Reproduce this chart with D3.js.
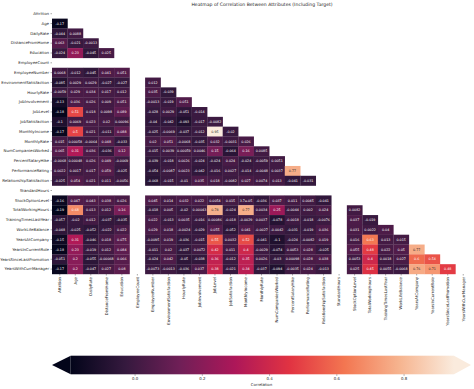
<!DOCTYPE html>
<html>
<head>
<meta charset="utf-8">
<script src="https://cdn.jsdelivr.net/npm/d3@7/dist/d3.min.js"></script>
<style>
html,body{margin:0;padding:0;background:#fff;}
svg{display:block;font-family:"DejaVu Sans",sans-serif;}
</style>
</head>
<body>
<svg id="chart" width="474" height="389"></svg>
<script>
const attributes = ["Attrition","Age","DailyRate","DistanceFromHome","Education","EmployeeCount","EmployeeNumber","EnvironmentSatisfaction","HourlyRate","JobInvolvement","JobLevel","JobSatisfaction","MonthlyIncome","MonthlyRate","NumCompaniesWorked","PercentSalaryHike","PerformanceRating","RelationshipSatisfaction","StandardHours","StockOptionLevel","TotalWorkingHours","TrainingTimesLastYear","WorkLifeBalance","YearsAtCompany","YearsInCurrentRole","YearsSinceLastPromotion","YearsWithCurrManager"];
const n = null;
// Lower-triangle correlation values, row by row; null = blank (constant attribute)
const corrAge = [-0.17];
const corrDailyRate = [-0.044,0.0088];
const corrDistance = [0.063,-0.021,-0.0013];
const corrEducation = [-0.024,0.23,-0.045,0.025];
const corrEmployeeCount = [n,n,n,n,n];
const corrEmployeeNumber = [0.0068,-0.012,-0.045,0.041,0.051,n];
const corrEnvironment = [-0.085,0.0029,0.0029,-0.027,-0.027,n,0.012];
const corrHourlyRate = [-0.0059,0.029,0.034,0.017,0.012,n,0.035,-0.039];
const corrInvolvement = [-0.13,0.036,0.026,0.009,0.051,n,-0.0013,-0.019,0.051];
const corrJobLevel = [-0.18,0.51,0.018,0.0098,0.089,n,-0.028,0.0029,-0.051,-0.014];
const corrJobSat = [-0.1,0.0069,0.023,0.02,0.00096,n,-0.04,-0.042,-0.093,-0.017,-0.0082];
const corrIncome = [-0.17,0.5,0.021,-0.011,0.088,n,-0.025,-0.0069,-0.037,-0.012,0.95,-0.02];
const corrMonthlyRate = [0.015,0.00058,-0.0064,0.048,-0.033,n,0.02,0.051,-0.0068,-0.035,0.032,-0.0031,0.026];
const corrNumCompanies = [0.065,0.31,0.036,-0.036,0.12,n,-0.015,0.0039,0.00059,0.0046,0.15,-0.064,0.16,0.0085];
const corrSalaryHike = [-0.0068,0.00048,0.026,0.049,-0.0069,n,-0.039,-0.018,0.0026,-0.024,-0.024,0.024,-0.024,-0.0059,0.0051];
const corrPerformance = [0.0022,0.0017,0.017,0.059,-0.025,n,-0.054,-0.0087,0.0023,-0.042,-0.016,0.0027,-0.014,-0.0048,0.0037,0.77];
const corrRelationship = [-0.025,0.054,0.021,0.011,-0.0056,n,-0.068,-0.015,-0.01,0.035,0.018,-0.0082,0.027,0.0074,0.013,-0.041,-0.031];
const corrStandardHours = [n,n,n,n,n,n,n,n,n,n,n,n,n,n,n,n,n,n];
const corrStock = [-0.16,0.047,0.043,0.038,0.026,n,0.045,0.014,0.032,0.022,0.0054,0.015,3.7e-05,-0.036,0.037,0.011,0.0045,-0.041,n];
const corrWorkingHours = [-0.19,0.68,0.013,0.012,0.16,n,-0.018,0.005,-0.02,0.00043,0.78,-0.024,0.77,0.0034,0.25,-0.0044,0.002,0.024,n,0.0082];
const corrTraining = [-0.057,-0.02,0.012,-0.037,-0.035,n,0.022,-0.013,0.0035,-0.016,0.00086,-0.018,-0.0029,0.0037,-0.078,-0.0018,-0.018,-0.0076,n,0.037,-0.019];
const corrBalance = [-0.048,-0.025,-0.052,-0.022,0.022,n,0.029,0.018,-0.0024,-0.029,0.055,-0.052,0.041,-0.0027,-0.0042,-0.031,-0.019,0.036,n,0.031,0.0022,0.04];
const corrYearsCompany = [-0.15,0.31,-0.046,0.018,0.075,n,-0.0095,0.019,-0.036,-0.015,0.55,0.0032,0.52,-0.041,-0.1,-0.024,-0.0082,0.019,n,0.016,0.63,0.013,0.015];
const corrYearsRole = [-0.18,0.23,-0.019,0.012,0.084,n,-0.011,0.02,-0.037,0.0072,0.42,0.011,0.4,-0.0029,-0.074,0.0053,0.028,-0.025,n,0.055,0.48,0.022,0.05,0.77];
const corrYearsPromo = [-0.051,0.2,-0.055,-0.00068,0.066,n,-0.024,0.042,-0.05,-0.038,0.36,-0.012,0.35,0.0026,-0.03,0.00098,0.028,0.038,n,0.0053,0.4,0.0018,0.027,0.6,0.54];
const corrYearsManager = [-0.17,0.2,-0.047,0.027,0.08,n,-0.0073,-0.0013,-0.036,0.037,0.38,-0.021,0.34,-0.037,-0.094,-0.0035,0.024,-0.013,n,0.025,0.45,0.0055,-0.0068,0.76,0.71,0.48];
const matrix = [[],corrAge,corrDailyRate,corrDistance,corrEducation,corrEmployeeCount,corrEmployeeNumber,corrEnvironment,corrHourlyRate,corrInvolvement,corrJobLevel,corrJobSat,corrIncome,corrMonthlyRate,corrNumCompanies,corrSalaryHike,corrPerformance,corrRelationship,corrStandardHours,corrStock,corrWorkingHours,corrTraining,corrBalance,corrYearsCompany,corrYearsRole,corrYearsPromo,corrYearsManager];
const colorTicks = [0,0.2,0.4,0.6,0.8];
const vMin = -0.19, vMax = 0.95;
const rocketStops = ["#03051a","#35193e","#701f57","#ad1759","#e13342","#f37651","#f6b48f","#faebdd"];

const svg = d3.select("#chart");
const rocket = d3.scaleLinear().domain(rocketStops.map((_,i)=>i/(rocketStops.length-1))).range(rocketStops).interpolate(d3.interpolateRgb);
const norm = d3.scaleLinear().domain([vMin,vMax]).clamp(true);
const colour = v => rocket(norm(v));

const x = d3.scaleBand().domain(attributes).range([52,471]);
const y = d3.scaleBand().domain(attributes).range([8.8,274]);

svg.append("text").attr("x",262).attr("y",6.4).attr("text-anchor","middle").attr("font-size",4.6).attr("fill","#262626")
  .text("Heatmap of Correlation Between Attributes (Including Target)");

const lum = c => {
  const f = v => { v/=255; return v<=0.03928 ? v/12.92 : Math.pow((v+0.055)/1.055,2.4); };
  const r = d3.rgb(c); return 0.2126*f(r.r)+0.7152*f(r.g)+0.0722*f(r.b);
};
const fmt = v => {
  if (Math.abs(v) < 1e-4 && v !== 0) return v.toExponential(1).replace(/e-(\d)$/,"e-0$1");
  return d3.format(".2~g")(v).replace("\u2212","-");
};
const cells = [];
matrix.forEach((row,i)=>row.forEach((v,j)=>{ if(v!==null) cells.push({r:attributes[i],c:attributes[j],v}); }));

const g = svg.append("g");
g.selectAll("rect").data(cells).join("rect")
  .attr("x",d=>x(d.c)).attr("y",d=>y(d.r))
  .attr("width",x.bandwidth()+0.2).attr("height",y.bandwidth()+0.2)
  .attr("fill",d=>colour(d.v));
g.selectAll("text").data(cells).join("text")
  .attr("x",d=>x(d.c)+x.bandwidth()/2).attr("y",d=>y(d.r)+y.bandwidth()/2)
  .attr("dy","0.36em").attr("text-anchor","middle").attr("font-size",3.3)
  .attr("fill",d=>lum(colour(d.v))>0.408?"#262626":"#ffffff")
  .text(d=>fmt(d.v));

const yAxis = d3.axisLeft(y).tickSize(1.5).tickPadding(1.5);
const yG = svg.append("g").attr("transform","translate(52,0)").call(yAxis);
yG.select(".domain").remove();
yG.selectAll("text").attr("font-size",3.9).attr("font-family","'DejaVu Sans',sans-serif").attr("fill","#262626");
yG.selectAll("line").attr("stroke","#262626").attr("stroke-width",0.4);

const xAxis = d3.axisBottom(x).tickSize(1.5).tickPadding(1.5);
const xG = svg.append("g").attr("transform","translate(0,274)").call(xAxis);
xG.select(".domain").remove();
xG.selectAll("line").attr("stroke","#262626").attr("stroke-width",0.4);
xG.selectAll("text").attr("font-size",3.9).attr("font-family","'DejaVu Sans',sans-serif").attr("fill","#262626")
  .attr("text-anchor","end").attr("dx",0).attr("dy","0.33em")
  .attr("transform",function(){ return "translate(0,"+3+") rotate(-90)"; })
  .attr("x",0).attr("y",0);

// Colour bar
const cb = d3.scaleLinear().domain([vMin,vMax]).range([70.7,454]);
const cbTop=355.7, cbBot=374.3, cbMid=(cbTop+cbBot)/2;
const defs = svg.append("defs");
const grad = defs.append("linearGradient").attr("id","rocketGrad");
rocketStops.forEach((c,i)=>grad.append("stop").attr("offset",(i/(rocketStops.length-1)))
  .attr("stop-color",c));
const cbg = svg.append("g");
const area = d3.line();
cbg.append("path").attr("d",area([[cb(vMin),cbTop],[52,cbMid],[cb(vMin),cbBot]])+"Z").attr("fill",rocketStops[0]);
cbg.append("path").attr("d",area([[cb(vMax),cbTop],[471,cbMid],[cb(vMax),cbBot]])+"Z").attr("fill",rocketStops[rocketStops.length-1]);
cbg.append("rect").attr("x",cb(vMin)).attr("y",cbTop).attr("width",cb(vMax)-cb(vMin)).attr("height",cbBot-cbTop).attr("fill","url(#rocketGrad)");
const cAxis = d3.axisBottom(cb).tickValues(colorTicks).tickFormat(d3.format(".1f")).tickSize(1.5).tickPadding(1);
const cG = svg.append("g").attr("transform","translate(0,"+cbBot+")").call(cAxis);
cG.select(".domain").remove();
cG.selectAll("line").attr("stroke","#262626").attr("stroke-width",0.4);
cG.selectAll("text").attr("font-size",3.9).attr("font-family","'DejaVu Sans',sans-serif").attr("fill","#262626");
svg.append("text").attr("x",261.5).attr("y",385.6).attr("text-anchor","middle").attr("font-size",3.9).attr("fill","#262626").text("Correlation");
</script>
</body>
</html>
